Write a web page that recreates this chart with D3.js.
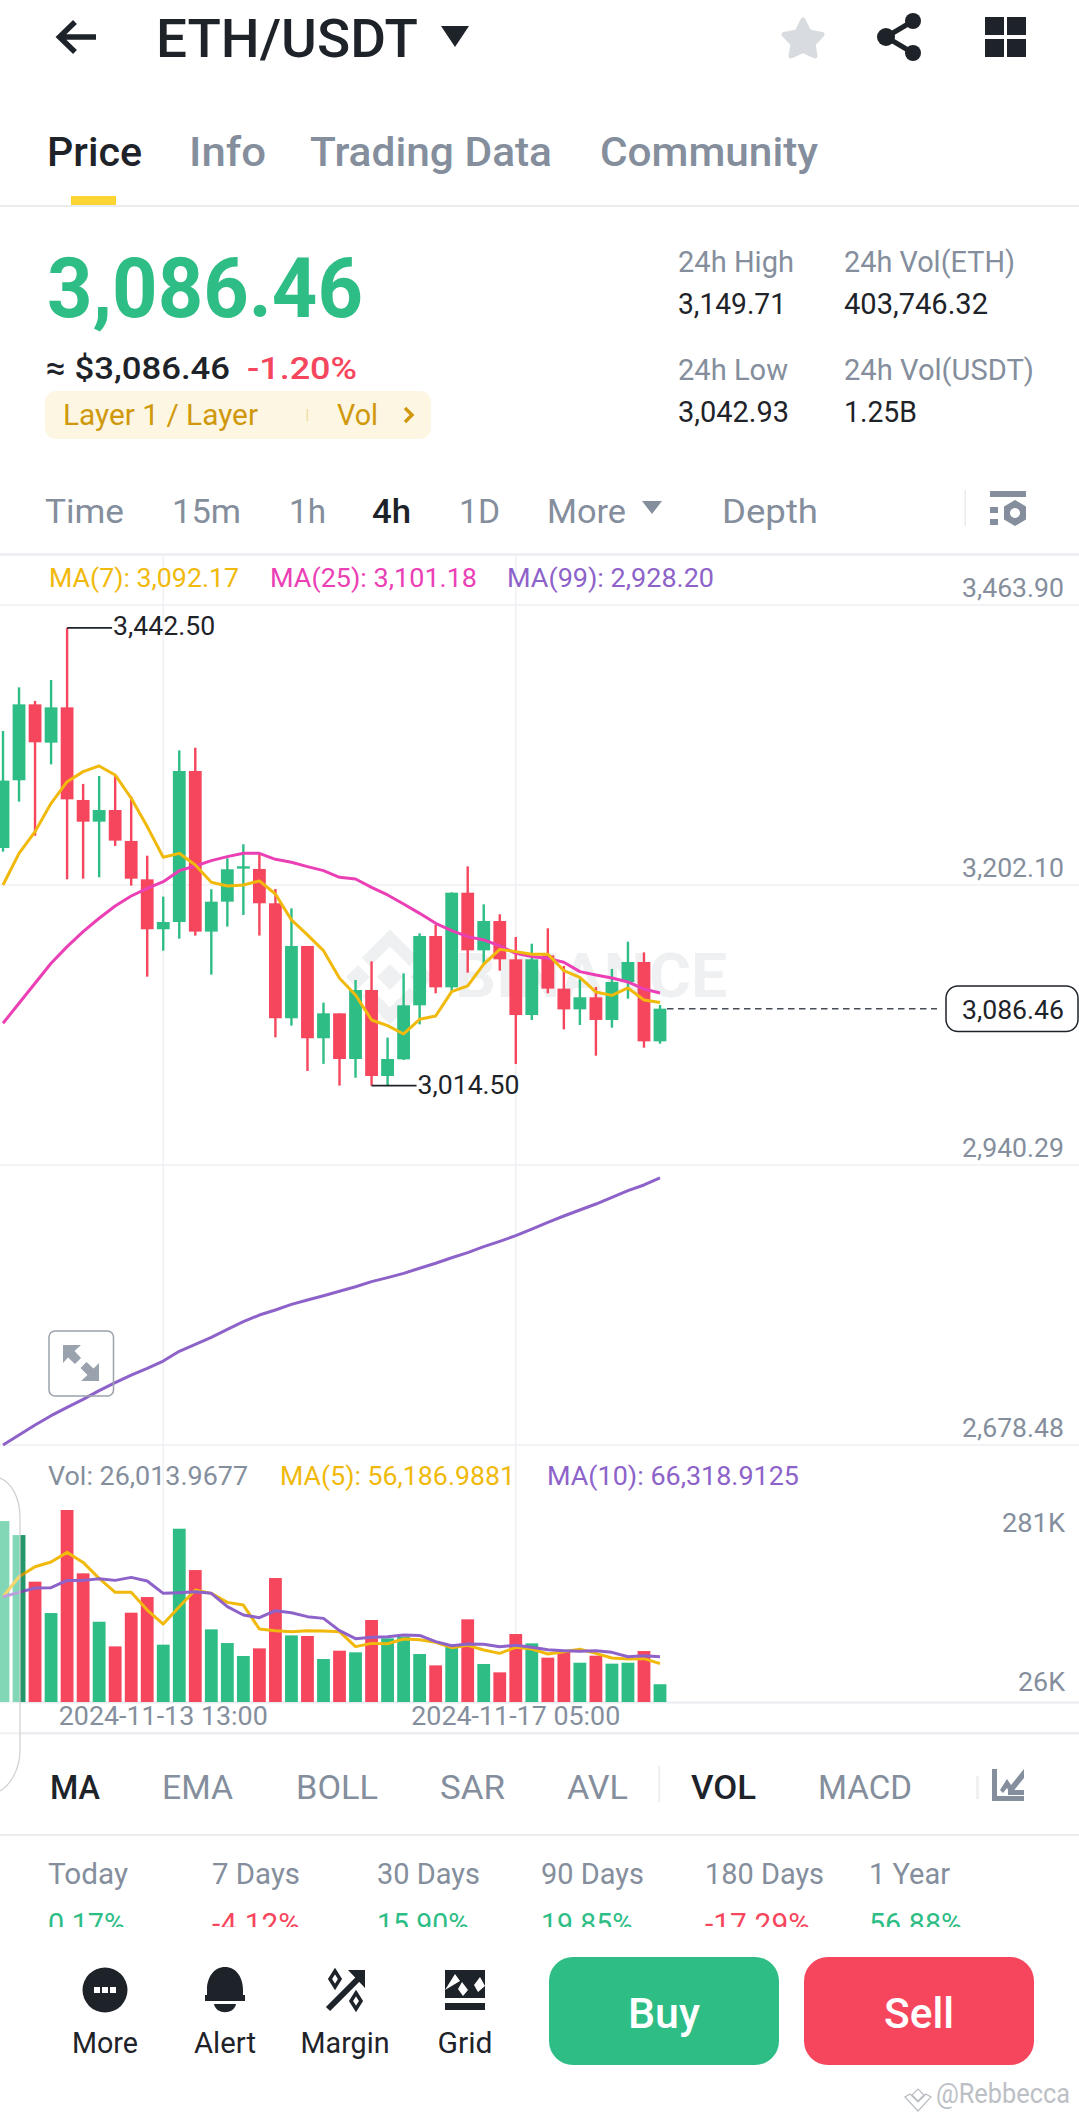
<!DOCTYPE html>
<html><head><meta charset="utf-8">
<script src="https://cdn.jsdelivr.net/npm/d3@7"></script>
<style>html,body{margin:0;padding:0;background:#fff}svg{display:block}</style>
</head><body><svg id="c" width="1079" height="2116"></svg>
<script>
// ---------- chart data ----------
const opens  = [3236.7,3300.0,3371.0,3335.2,3368.2,3281.6,3261.3,3272.2,3243.3,3207.4,3160.7,3167.5,3308.7,3158.5,3186.5,3217.4,3217.1,3185.0,3077.5,3145.1,3058.8,3082.1,3039.4,3103.9,3023.5,3039.1,3089.6,3154.4,3106.4,3194.9,3141.0,3168.4,3132.6,3080.5,3136.3,3105.2,3085.8,3097.1,3075.9,3111.4,3130.1,3055.9];
const closes = [3299.7,3371.0,3335.5,3368.2,3282.2,3261.3,3272.2,3243.6,3208.0,3160.7,3167.5,3308.7,3158.5,3186.5,3216.8,3219.6,3185.0,3077.5,3145.1,3058.8,3082.1,3039.4,3103.9,3023.5,3039.4,3089.6,3154.4,3106.4,3194.9,3141.0,3168.4,3132.6,3080.5,3132.6,3105.2,3085.8,3097.1,3075.9,3111.4,3130.1,3055.9,3086.46];
const highs  = [3346.1,3386.9,3374.2,3393.8,3442.5,3296.6,3304.0,3305.0,3284.7,3229.5,3191.2,3328.0,3330.5,3198.1,3227.1,3240.2,3231.7,3198.4,3180.3,3145.1,3092.1,3082.1,3113.3,3130.7,3059.4,3119.5,3156.9,3164.7,3195.2,3219.5,3184.0,3174.7,3153.5,3147.2,3161.6,3126.4,3114.8,3106.7,3123.6,3149.1,3139.1,3089.9];
const lows   = [3233.3,3280.0,3248.2,3314.9,3207.4,3208.0,3209.3,3238.6,3201.5,3116.4,3140.7,3151.9,3154.8,3118.3,3163.2,3174.1,3154.8,3059.7,3070.6,3028.2,3034.8,3014.5,3021.9,3014.5,3014.5,3038.5,3071.8,3100.8,3103.3,3120.1,3127.3,3122.0,3034.7,3075.9,3100.8,3067.1,3071.2,3042.5,3068.7,3095.8,3050.0,3053.7];
const ma7    = [3202.1,3231.7,3252.0,3278.5,3298.7,3308.1,3313.4,3305.0,3283.2,3256.7,3228.0,3231.7,3220.8,3204.6,3201.2,3202.1,3205.9,3193.7,3169.4,3155.4,3140.7,3114.9,3099.2,3075.9,3070.6,3062.8,3076.5,3079.6,3102.4,3107.7,3128.2,3141.9,3139.8,3137.3,3137.3,3122.0,3115.8,3102.0,3098.9,3105.8,3094.6,3092.17];
const ma25   = [3072.8,3091.5,3110.2,3128.9,3144.5,3158.5,3171.0,3182.5,3191.8,3199.0,3205.2,3215.5,3219.9,3224.9,3228.6,3231.7,3231.7,3226.1,3223.3,3219.3,3215.5,3209.3,3207.7,3199.9,3192.8,3184.3,3175.6,3166.3,3159.4,3153.8,3150.7,3145.1,3138.2,3135.1,3133.5,3129.8,3121.1,3118.0,3115.1,3111.4,3104.8,3101.18];
const ma99   = [2678.5,2687.8,2697.2,2705.9,2713.7,2721.2,2729.3,2736.8,2743.9,2750.2,2757.0,2766.1,2772.6,2779.2,2786.6,2793.8,2800.0,2804.7,2810.0,2814.1,2818.1,2822.2,2826.5,2831.2,2835.0,2839.0,2843.7,2848.4,2853.6,2858.3,2863.9,2868.9,2874.2,2880.4,2886.7,2892.6,2898.2,2903.8,2910.1,2916.3,2921.6,2928.20];
const volumes= [264.8,244.3,176.1,130.2,281.0,188.3,117.5,81.4,130.7,153.6,83.9,253.6,193.1,106.3,86.3,67.3,78.5,181.4,97.5,96.6,62.9,75.1,72.7,120.0,93.2,95.6,70.2,53.6,81.0,121.0,55.6,43.4,99.5,85.8,64.9,73.2,57.5,67.8,56.1,57.5,74.6,26.014];
const volMa5 = [154.1,183.4,198.0,204.8,219.0,204.3,180.9,160.5,160.5,134.6,114.1,139.5,163.9,159.0,145.8,141.9,106.8,104.4,102.9,104.4,103.9,102.9,81.0,85.8,85.3,92.2,91.2,87.3,79.5,82.9,76.1,71.2,80.0,77.5,70.2,73.6,77.1,71.2,64.4,62.9,63.4,56.19];
const volMa10= [154.1,160.5,166.8,167.3,178.0,178.0,180.4,178.0,182.4,177.0,159.0,160.0,161.4,159.0,139.5,127.3,123.4,133.6,130.7,124.9,122.4,104.4,92.7,94.6,95.6,98.0,97.5,88.3,82.4,84.9,84.4,81.0,82.9,80.0,76.6,75.1,74.1,75.1,72.7,66.3,67.8,66.32];
const priceTicks = [3463.90,3202.10,2940.29,2678.48];
const volTickLabels = ["281K","26K"];
const dateLabels = ["2024-11-13 13:00","2024-11-17 05:00"];
const dateIndexes = [10,32];
const lastPrice = 3086.46, maxPrice = 3442.50, minPrice = 3014.50;
const periods = ["Today","7 Days","30 Days","90 Days","180 Days","1 Year"];
const periodValues = ["0.17%","-4.12%","15.90%","19.85%","-17.29%","56.88%"];
const indicatorsA = ["MA","EMA","BOLL","SAR","AVL"];
const indicatorsB = ["VOL","MACD"];
const intervals = ["Time","15m","1h","4h","1D","More","Depth"];
const tabs = ["Price","Info","Trading Data","Community"];

// ---------- setup ----------
const GREEN="#2EBD85",RED="#F6465D",DARK="#1E2329",GRAY="#848E9C",LINE="#EEF0F3",
      C_MA7="#F0B90B",C_MA25="#EB40B5",C_MA99="#8D62C9";
const UI="Roboto,sans-serif",CH="Roboto,sans-serif";
const svg=d3.select("#c");
const defs=svg.append("defs");
function T(x,y,s,o={}){
  const t=svg.append("text").attr("x",x).attr("y",y).text(s)
   .attr("font-family",o.font||UI).attr("font-size",o.size||28)
   .attr("fill",o.color||DARK).attr("font-weight",o.weight||400)
   .attr("text-anchor",o.anchor||"start");
  if(o.w) t.attr("textLength",o.w).attr("lengthAdjust","spacingAndGlyphs");
  return t;
}
const P=(d,fill,g)=>(g||svg).append("path").attr("d",d).attr("fill",fill||DARK);
const R=(x,y,w,h,fill,r)=>svg.append("rect").attr("x",x).attr("y",y).attr("width",w).attr("height",h).attr("fill",fill).attr("rx",r||0);

// ---------- header ----------
svg.append("path").attr("d","M96 37H60M75 22L59.5 37L75 52").attr("fill","none").attr("stroke",DARK).attr("stroke-width",5.5);
T(156,57,"ETH/USDT",{size:53,weight:500,w:262});
P("M441 26H469L455 47Z");
svg.append("path").attr("d","M803 20L809 32L822 34.5L813 44L815 56L803 50.5L791 56L793 44L784 34.5L797 32Z").attr("fill","#D8DBDF").attr("stroke","#D8DBDF").attr("stroke-width",5).attr("stroke-linejoin","round");
[[913,21],[886,37],[913,53]].forEach(c=>svg.append("circle").attr("cx",c[0]).attr("cy",c[1]).attr("r",c[0]==886?9:8).attr("fill",DARK));
svg.append("path").attr("d","M913 21L886 37L913 53").attr("fill","none").attr("stroke",DARK).attr("stroke-width",5);
[[985,17],[1007,17],[985,39],[1007,39]].forEach(c=>R(c[0],c[1],19,18,DARK));

// tabs
const tabX=[[47,95],[189,77],[310,242],[600,218]];
tabs.forEach((s,i)=>T(tabX[i][0],166,s,{size:41,weight:500,color:i?GRAY:DARK,w:tabX[i][1]}));
R(71,196,45,9,"#FCD535");
R(0,205,1079,2,"#EAECEF");

// price block
T(47,317,"3,086.46",{size:84,weight:700,color:GREEN,w:316});
T(46,379,"≈ $3,086.46",{size:32,weight:500,w:184});
T(247,379,"-1.20%",{size:32,weight:500,color:RED,w:110});
R(45,391,386,48,"#FDF6E3",11);
T(63,425,"Layer 1 / Layer",{size:29,color:"#D0980B",w:195});
R(306.5,409,1.5,12,"#EFDFA9");
T(337,425,"Vol",{size:29,color:"#D0980B",w:41});
svg.append("path").attr("d","M405 408L412 415L405 422").attr("fill","none").attr("stroke","#D0980B").attr("stroke-width",3.4);

const stat=[[678,272,"24h High",116,GRAY],[844,272,"24h Vol(ETH)",171,GRAY],[678,314,"3,149.71",108,DARK],[844,314,"403,746.32",144,DARK],
            [678,380,"24h Low",110,GRAY],[844,380,"24h Vol(USDT)",190,GRAY],[678,422,"3,042.93",111,DARK],[844,422,"1.25B",73,DARK]];
stat.forEach(a=>T(a[0],a[1],a[2],{size:29,color:a[4],w:a[3]}));

// interval row
const intX=[[45,79],[172,69],[289,37],[372,39],[459,41],[547,79],[722,96]];
intervals.forEach((s,i)=>T(intX[i][0],523,s,{size:34,color:i==3?DARK:GRAY,weight:i==3?500:400,w:intX[i][1]}));
P("M642 501H662L652 514Z",GRAY);
R(964.5,490,1.5,36,"#EAECEF");
R(990,491,36,6,GRAY);R(990,507,8,6,GRAY);R(990,519,8,6,GRAY);
P("M1015 500L1026 506.5V519.5L1015 526L1004 519.5V506.5Z M1015 508a5 5 0 1 0 .01 0Z",GRAY).attr("fill-rule","evenodd");

// ---------- chart ----------
const n=opens.length, idx=d3.range(n);
const x=d3.scaleLinear().domain([0,n-1]).range([3,660]);
const y=d3.scaleLinear().domain([priceTicks[3],priceTicks[0]]).range([1445,605]);
const yV=d3.scaleLinear().domain([0,281]).range([1702,1510]);
const up=i=>closes[i]>=opens[i], col=i=>up(i)?GREEN:RED;
const BW=12.8, WW=2.4;

// grid
R(0,553,1079,3,LINE);
R(0,1732,1079,2.5,"#EAECEF");
priceTicks.forEach(v=>R(0,y(v)-.75,1079,1.5,LINE));
R(0,yV(0)-.5,1079,2,"#E9EBEE");
dateIndexes.forEach(i=>R(x(i)-.75,556,1.5,1146,LINE));

// watermark
const wm="#EEF0F1";
[[390,938,1],[390,1016,-1]].forEach(a=>svg.append("path")
  .attr("d",`M${a[0]-24} ${a[1]+24*a[2]}L${a[0]} ${a[1]}L${a[0]+24} ${a[1]+24*a[2]}`).attr("fill","none").attr("stroke",wm).attr("stroke-width",12));
[[390,977,13],[358,977,12],[422,977,12]].forEach(a=>P(`M${a[0]} ${a[1]-a[2]}l${a[2]} ${a[2]}l${-a[2]} ${a[2]}l${-a[2]} ${-a[2]}Z`,wm));
T(455,997,"BINANCE",{size:62,weight:700,color:wm,w:272});

// candles
const cg=svg.append("g");
cg.selectAll("rect.w").data(idx).join("rect").attr("class","w")
  .attr("x",i=>x(i)-WW/2).attr("width",WW).attr("y",i=>y(highs[i])).attr("height",i=>y(lows[i])-y(highs[i])).attr("fill",col);
cg.selectAll("rect.b").data(idx).join("rect").attr("class","b")
  .attr("x",i=>x(i)-BW/2).attr("width",BW).attr("y",i=>y(Math.max(opens[i],closes[i])))
  .attr("height",i=>Math.abs(y(opens[i])-y(closes[i]))).attr("fill",col);

const lineOf=(arr,sc)=>d3.line().x(i=>x(i)).y(i=>sc(arr[i]))(idx);
[[ma99,C_MA99],[ma25,C_MA25],[ma7,C_MA7]].forEach(a=>svg.append("path").attr("d",lineOf(a[0],y))
  .attr("fill","none").attr("stroke",a[1]).attr("stroke-width",3).attr("stroke-linejoin","round"));

// hi / lo annotations
const hiI=highs.indexOf(maxPrice);
svg.append("path").attr("d",`M${x(hiI)} ${y(maxPrice)}H${x(hiI)+45}`).attr("stroke",DARK).attr("stroke-width",1.6);
T(x(hiI)+46,y(maxPrice)+7.5,d3.format(",.2f")(maxPrice),{size:26,w:102});
svg.append("path").attr("d",`M${x(23)} ${y(minPrice)}H${x(23)+45}`).attr("stroke",DARK).attr("stroke-width",1.6);
T(x(23)+46,y(minPrice)+8,d3.format(",.2f")(minPrice),{size:26,w:102});

// last price
svg.append("path").attr("d",`M${x(n-1)+7} ${y(lastPrice)}H937`).attr("stroke","#474D57").attr("stroke-width",1.5).attr("stroke-dasharray","6.5,4.5");
svg.append("rect").attr("x",946).attr("y",986).attr("width",132).attr("height",45.5).attr("rx",12).attr("fill","#fff").attr("stroke",DARK).attr("stroke-width",1.5);
T(962,1019,d3.format(",.2f")(lastPrice),{size:26,w:102});

// axis labels
priceTicks.forEach(v=>T(1064,y(v)-8,d3.format(",.2f")(v),{size:26,color:GRAY,anchor:"end",w:102}));
T(49,587,"MA(7): 3,092.17",{size:26,color:C_MA7,w:190});
T(270,587,"MA(25): 3,101.18",{size:26,color:C_MA25,w:207});
T(507,587,"MA(99): 2,928.20",{size:26,color:C_MA99,w:207});

// expand icon
svg.append("rect").attr("x",49).attr("y",1331).attr("width",64.5).attr("height",65).attr("rx",6).attr("fill","none").attr("stroke","#9AA2AD").attr("stroke-width",1.5);
P("M63 1345H81L74.5 1351L81 1358L75 1364L68 1357.5L63 1363Z M99 1381H81L87.5 1375L80.5 1368L86.5 1362L93.5 1368.5L99 1363Z","#9AA2AD");

// volume
T(48,1485,"Vol: 26,013.9677",{size:26,color:GRAY,w:200});
T(280,1485,"MA(5): 56,186.9881",{size:26,color:C_MA7,w:235});
T(547,1485,"MA(10): 66,318.9125",{size:26,color:C_MA99,w:252});
const vbars=g=>g.selectAll("rect").data(idx).join("rect").attr("x",i=>x(i)-BW/2).attr("width",BW)
  .attr("y",i=>yV(volumes[i])).attr("height",i=>yV(0)-yV(volumes[i]));
svg.append("g").call(vbars).selectAll("rect").attr("fill",col);
[[volMa5,C_MA7],[volMa10,C_MA99]].forEach(a=>svg.append("path").attr("d",lineOf(a[0],yV))
  .attr("fill","none").attr("stroke",a[1]).attr("stroke-width",3).attr("stroke-linejoin","round"));
T(1065,1532,volTickLabels[0],{size:26,color:GRAY,anchor:"end",w:63});
T(1065,1691,volTickLabels[1],{size:26,color:GRAY,anchor:"end",w:47});
dateLabels.forEach((s,i)=>T(x(dateIndexes[i]),1725,s,{size:26,color:GRAY,anchor:"middle",w:209}));

// floating side panel over the left edge
defs.append("clipPath").attr("id","edge").append("rect").attr("x",20).attr("y",1440).attr("width",6).attr("height",300);
svg.append("g").attr("clip-path","url(#edge)").call(vbars).selectAll("rect").attr("fill","#000").attr("fill-opacity",.2);
const panel="M0 1478C12 1483 20 1498 20 1518V1750C20 1770 10 1785 0 1791";
svg.append("path").attr("d",panel+"Z").attr("fill","#fff").attr("fill-opacity",.4);
svg.append("path").attr("d",panel).attr("fill","none").attr("stroke","#CFCFCF").attr("stroke-width",1.2);

// indicator tabs
const indX=[[50,50],[162,71],[296,82],[440,65],[567,61]];
indicatorsA.forEach((s,i)=>T(indX[i][0],1799,s,{size:33,color:i?GRAY:DARK,weight:i?400:500,w:indX[i][1]}));
R(658.5,1766,1.5,36,"#EAECEF");
const indX2=[[691,65],[818,94]];
indicatorsB.forEach((s,i)=>T(indX2[i][0],1799,s,{size:33,color:i?GRAY:DARK,weight:i?400:500,w:indX2[i][1]}));
R(976,1776,3,23,"#F0F1F3");
P("M992 1769H997V1796H1024V1801H992Z M1000 1790L1007 1779L1011 1785L1024 1769V1778L1011 1794L1007 1788L1003 1793Z M1008 1790H1024V1795H1008Z",GRAY);
R(0,1834,1079,2,"#EAECEF");

// performance row
defs.append("clipPath").attr("id","perf").append("rect").attr("x",0).attr("y",1900).attr("width",1079).attr("height",27);
const perfX=[48,212,377,541,705,869], perfW=[80,88,103,103,119,81], valW=[77,88,92,92,105,93];
periods.forEach((s,i)=>T(perfX[i],1884,s,{size:29,color:GRAY,w:perfW[i]}));
periodValues.forEach((s,i)=>T(perfX[i],1934,s,{size:29,color:s[0]=="-"?RED:GREEN,w:valW[i]}).attr("clip-path","url(#perf)"));

// bottom actions
svg.append("circle").attr("cx",105).attr("cy",1990).attr("r",22.5).attr("fill",DARK);
[94,102,110].forEach(a=>R(a,1987,6,6,"#fff"));
P("M225 1967C236 1967 243 1977 243 1990V1995H245V2001H205V1995H207V1990C207 1977 214 1967 225 1967Z");
P("M214 2004H236C234 2015 216 2015 214 2004Z");
svg.append("path").attr("d","M328 2009L361 1976").attr("stroke",DARK).attr("stroke-width",6);
P("M348 1970H365V1988Z");
[[335,1979],[356,2001]].forEach(a=>{svg.append("path").attr("d",`M${a[0]} ${a[1]-8}l5 8l-5 8l-5 -8Z`).attr("fill","#fff").attr("stroke",DARK).attr("stroke-width",3.5);});
P("M445 1970H485V1998H445Z");
P("M445 1990L455 1974L460 1981L445 1990Z M462 1982L468 1990L463 1996L458 1989Z M474 1985L480 1977L485 1986L478 1992Z","#fff");
R(445,2003,40,7,DARK);
const acts=[[105,"More",66],[225,"Alert",62],[345,"Margin",89],[465,"Grid",55]];
acts.forEach(a=>T(a[0],2053,a[1],{size:29,anchor:"middle",w:a[2]}));
R(549,1957,230,108,GREEN,24);
R(804,1957,230,108,RED,24);
T(664,2028,"Buy",{size:42,weight:500,color:"#fff",anchor:"middle",w:72});
T(919,2028,"Sell",{size:42,weight:500,color:"#fff",anchor:"middle",w:70});

// credit
svg.append("path").attr("d","M918 2089l6 6l-6 6l-6 -6Z M905 2097l13 14l13 -14l-5 -3l-8 8l-8 -8Z").attr("fill","none").attr("stroke","#B9BDC2").attr("stroke-width",1.2);
T(936,2103,"@Rebbecca",{size:27,color:"#BCC0C5",w:134});
</script></body></html>
